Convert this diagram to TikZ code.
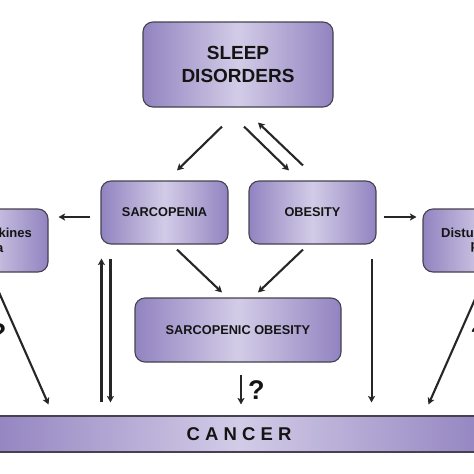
\documentclass[tikz,border=0pt]{standalone}
\usepackage{fontspec}
\setmainfont{Liberation Sans}
\usetikzlibrary{arrows.meta,calc}
\definecolor{boxdark}{HTML}{9283C0}
\definecolor{boxlight}{HTML}{D3CCE7}
\definecolor{boxline}{HTML}{45414F}
\definecolor{arrowcol}{HTML}{262626}
\definecolor{textcol}{HTML}{141414}
\begin{document}
\begin{tikzpicture}[x=1pt,y=-1pt,
  box/.style={draw=boxline, line width=1.1pt, rounded corners=10pt,
    left color=boxdark, right color=boxdark, middle color=boxlight,
    text=textcol, align=center, inner sep=0pt},
  txt/.style={text=textcol, inner sep=0pt, font=\bfseries\fontsize{13}{15}\selectfont},
  qm/.style={text=textcol, inner sep=0pt, font=\bfseries\fontsize{27}{30}\selectfont},
  arr/.style={draw=arrowcol, line width=2.1pt, -{Stealth[length=6.5pt,width=7pt,inset=1.5pt]}}]
\useasboundingbox (0,0) rectangle (474,474);
\fill[white] (0,0) rectangle (474,474);

% boxes
\node[box, minimum width=190pt, minimum height=85pt,
  font=\bfseries\fontsize{19}{22.5}\selectfont] (sleep) at (238,64.5) {SLEEP\\DISORDERS};
\node[box, minimum width=127pt, minimum height=63pt,
  font=\bfseries\fontsize{12.75}{15}\selectfont] (sarc) at (164.5,212.5) {SARCOPENIA};
\node[box, minimum width=127pt, minimum height=63pt,
  font=\bfseries\fontsize{12.75}{15}\selectfont] (obes) at (312.5,212.5) {OBESITY};
\node[box, minimum width=206pt, minimum height=64pt,
  font=\bfseries\fontsize{12.75}{15}\selectfont] (so) at (238,330) {SARCOPENIC OBESITY};
\node[box, minimum width=128pt, minimum height=63pt] (lbox) at (-16,240.5) {};
\node[box, minimum width=128pt, minimum height=63pt] (rbox) at (487,240.5) {};
\node[txt, anchor=base east] (lboxa) at (32,237) {kines};
\node[txt, anchor=base east] (lboxb) at (3.5,252) {a};
\node[txt, anchor=base west] (rboxa) at (441,237) {Distu};
\node[txt, anchor=base west] (rboxb) at (470.5,249) {p};
\node[draw=boxline, line width=1.1pt, left color=boxdark, right color=boxdark,
  middle color=boxlight, minimum width=500pt, minimum height=36pt, inner sep=0pt,
  text=textcol, font=\bfseries\fontsize{18.5}{22}\selectfont] (cancer) at (239,434) {C A N C E R};

% arrows
\draw[arr] ($(sleep.south)+(-16,19)$) -- ($(sarc.north)+(12.5,-10)$);
\draw[arr] ($(sleep.south)+(6,19)$) -- ($(obes.north)+(-23.5,-10)$);
\draw[arr] ($(obes.north)+(-9.5,-15)$) -- ($(sleep.south)+(20,15)$);
\draw[arr] ($(sarc.west)+(-10,4.5)$) -- ($(lbox.east)+(10,-23.5)$);
\draw[arr] ($(obes.east)+(7,4.5)$) -- ($(rbox.west)+(-6,-23.5)$);
\draw[arr] ($(sarc.south)+(12.5,5)$) -- ($(so.north)+(-16,-5)$);
\draw[arr] ($(obes.south)+(-9.5,5)$) -- ($(so.north)+(20,-5)$);
\draw[arr] ($(sarc.south west |- cancer.north)+(1,-13)$) -- ($(sarc.south west)+(1,14)$);
\draw[arr] ($(sarc.south west)+(10,14)$) -- ($(sarc.south west |- cancer.north)+(10,-13)$);
\draw[arr] ($(so.south)+(3,12)$) -- ($(so.south |- cancer.north)+(3,-11)$);
\draw[arr] ($(obes.south east)+(-5,14)$) -- ($(obes.south east |- cancer.north)+(-5,-13)$);
\draw[arr] ($(lbox.south)+(12,13)$) -- ($(lbox.south east |- cancer.north)+(0,-11)$);
\draw[arr] ($(rbox.south)+(-6,13)$) -- ($(rbox.south west |- cancer.north)+(6,-11)$);

% question marks
\node[qm, anchor=base west] (q1) at (248,399) {?};
\node[qm, anchor=base east] (q2) at (6.5,342) {?};
\node[qm, anchor=base west] (q3) at (470.5,345) {?};
\end{tikzpicture}
\end{document}
